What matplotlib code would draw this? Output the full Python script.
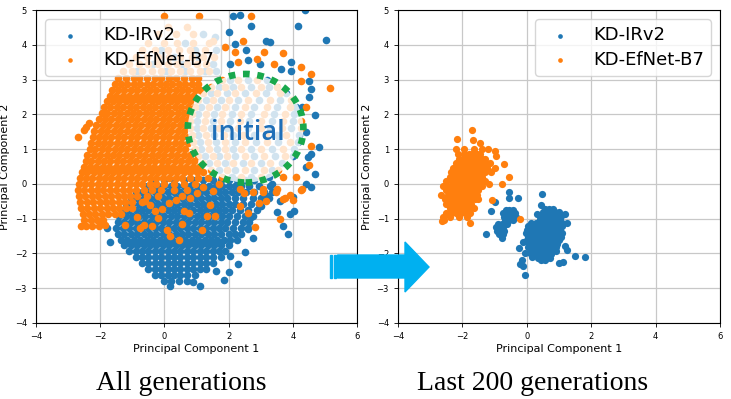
import matplotlib
matplotlib.use("Agg")
import matplotlib.pyplot as plt
from matplotlib.patches import Ellipse, Rectangle, Polygon

# ---------------- data ----------------
series_names = ["KD-IRv2", "KD-EfNet-B7"]
x_ticks = [-4, -2, 0, 2, 4, 6]
y_ticks = [-4, -3, -2, -1, 0, 1, 2, 3, 4, 5]
captions = ["All generations", "Last 200 generations"]

# ---- left panel: all generations, KD-EfNet-B7 (orange), rows of (y, [x...])
orange_all_rows = [
    (3.05, [-1.45, -1.2, -0.95, -0.8, -0.55, -0.3, -0.1, 0.15, 0.35, 0.6, 0.85, 1.05]),
    (2.88, [-1.55, -1.35, -1.15, -0.95, -0.75, -0.55, -0.35, -0.15, 0.05, 0.25, 0.45, 0.65, 0.85, 1.05]),
    (2.71, [-1.62, -1.45, -1.25, -1.05, -0.85, -0.65, -0.45, -0.25, -0.05, 0.15, 0.35, 0.55, 0.75, 0.95, 1.1]),
    (2.54, [-1.7, -1.5, -1.3, -1.1, -0.9, -0.7, -0.5, -0.3, -0.1, 0.1, 0.3, 0.5, 0.7, 0.9]),
    (2.37, [-1.78, -1.6, -1.4, -1.2, -1.0, -0.8, -0.6, -0.4, -0.2, 0.0, 0.2, 0.4, 0.6, 0.8]),
    (2.20, [-1.88, -1.68, -1.48, -1.28, -1.08, -0.88, -0.68, -0.48, -0.28, -0.08, 0.12, 0.32, 0.52, 0.72]),
    (2.03, [-1.95, -1.78, -1.58, -1.38, -1.18, -0.98, -0.78, -0.58, -0.38, -0.18, 0.02, 0.22, 0.42, 0.62, 0.78]),
    (1.86, [-2.05, -1.85, -1.65, -1.45, -1.25, -1.05, -0.85, -0.65, -0.45, -0.25, -0.05, 0.15, 0.35, 0.55, 0.72]),
    (1.69, [-2.12, -1.92, -1.72, -1.52, -1.32, -1.12, -0.92, -0.72, -0.52, -0.32, -0.12, 0.08, 0.28, 0.48, 0.68]),
    (1.52, [-2.18, -1.98, -1.78, -1.58, -1.38, -1.18, -0.98, -0.78, -0.58, -0.38, -0.18, 0.02, 0.22, 0.42, 0.62]),
    (1.35, [-2.22, -2.05, -1.85, -1.65, -1.45, -1.25, -1.05, -0.85, -0.65, -0.45, -0.25, -0.05, 0.15, 0.35, 0.55, 0.75]),
    (1.18, [-2.28, -2.08, -1.88, -1.68, -1.48, -1.28, -1.08, -0.88, -0.68, -0.48, -0.28, -0.08, 0.12, 0.32, 0.52, 0.72]),
    (1.01, [-2.32, -2.15, -1.95, -1.75, -1.55, -1.35, -1.15, -0.95, -0.75, -0.55, -0.35, -0.15, 0.05, 0.25, 0.45, 0.65]),
    (0.84, [-2.4, -2.2, -2.0, -1.8, -1.6, -1.4, -1.2, -1.0, -0.8, -0.6, -0.4, -0.2, 0.0, 0.2, 0.4, 0.6, 0.8]),
    (0.67, [-2.45, -2.28, -2.08, -1.88, -1.68, -1.48, -1.28, -1.08, -0.88, -0.68, -0.48, -0.28, -0.08, 0.12, 0.32, 0.52, 0.72, 0.92]),
    (0.50, [-2.52, -2.32, -2.12, -1.92, -1.72, -1.52, -1.32, -1.12, -0.92, -0.72, -0.52, -0.32, -0.12, 0.08, 0.28, 0.48, 0.68, 0.88, 1.08]),
    (0.33, [-2.58, -2.4, -2.2, -2.0, -1.8, -1.6, -1.4, -1.2, -1.0, -0.8, -0.6, -0.4, -0.2, 0.0, 0.2, 0.4, 0.6, 0.8, 1.0, 1.2]),
    (0.16, [-2.62, -2.45, -2.25, -2.05, -1.85, -1.65, -1.45, -1.25, -1.05, -0.85, -0.65, -0.45, -0.25, -0.05, 0.15, 0.35, 0.55, 0.8, 1.05, 1.35]),
    (-0.01, [-2.65, -2.48, -2.28, -2.08, -1.88, -1.68, -1.48, -1.28, -1.08, -0.88, -0.7, -0.45, -0.25, 0.0, 0.3, 0.6, 0.95]),
    (-0.18, [-2.68, -2.5, -2.3, -2.1, -1.9, -1.7, -1.5, -1.3, -1.1, -0.9, -0.65, -0.4, -0.1, 0.3, 0.7]),
    (-0.35, [-2.66, -2.46, -2.26, -2.06, -1.86, -1.66, -1.46, -1.26, -1.06, -0.85, -0.55, -0.2]),
    (-0.52, [-2.62, -2.42, -2.22, -2.02, -1.82, -1.62, -1.42, -1.22, -1.0, -0.7]),
    (-0.69, [-2.6, -2.4, -2.2, -2.0, -1.8, -1.6, -1.4, -1.2, -1.0]),
    (-0.86, [-2.55, -2.35, -2.15, -1.95, -1.75, -1.55, -1.35]),
    (-1.03, [-2.5, -2.3, -2.1, -1.9]),
    (-1.20, [-2.45, -2.25, -2.05]),
]
# pale points inside the "initial" circle and behind the legend
orange_all_hidden_rows = [
    (4.50, [0.1, 0.7]),
    (4.30, [-0.2, 0.35, 0.9]),
    (4.05, [-0.5, 0.0, 0.4, 0.9, 1.4]),
    (3.85, [-0.7, -0.3, 0.1, 0.45, 0.8, 1.25]),
    (3.65, [-0.9, -0.55, -0.2, 0.15, 0.5, 0.85, 1.2, 1.55]),
    (3.45, [-1.1, -0.8, -0.5, -0.2, 0.1, 0.4, 0.7, 1.0, 1.3]),
    (3.25, [-1.3, -1.0, -0.7, -0.4, -0.1, 0.2, 0.5, 0.8, 1.1, 1.4]),
    (3.0, [1.8, 2.3, 2.9]),
    (2.8, [1.45, 1.9, 2.4, 3.0, 3.5]),
    (2.6, [1.2, 1.65, 2.2, 2.85, 3.6]),
    (2.4, [1.05, 1.5, 2.0, 2.6, 3.3, 3.95]),
    (2.2, [0.95, 1.4, 1.9, 2.5, 3.2, 3.9]),
    (2.0, [0.85, 1.3, 1.8, 2.4, 3.1, 3.75]),
    (1.8, [0.8, 1.25, 1.75, 2.35, 3.0, 3.7, 4.25]),
    (1.6, [0.8, 1.2, 1.7, 2.3, 3.0, 3.65, 4.25]),
    (1.4, [0.85, 1.3, 1.85, 2.45, 3.15, 3.8]),
    (1.2, [0.9, 1.35, 1.9, 2.5, 3.2, 3.9]),
    (1.0, [0.95, 1.4, 1.9, 2.4, 3.0, 3.7]),
    (0.8, [1.05, 1.5, 1.95, 2.5, 3.1, 3.75]),
    (0.6, [1.2, 1.65, 2.15, 2.7, 3.3]),
    (0.4, [1.45, 1.95, 2.5, 3.1, 3.55]),
    (0.2, [1.8, 2.4, 3.0]),
]
orange_all_extra_x = [-2.7, -2.45, -2.35, -2.5, -1.85, -2.6, -2.0, -1.23, -0.86, -0.76, -0.65, -0.40,
                      -0.19, -0.29, -0.09, 0.07, 0.18, 0.46, 0.55, 1.16, 0.6, 0.76, 1.42, 1.58, 1.32,
                      2.36, 2.61, 2.82, 3.60, 3.76, 3.92, 4.28, 2.95, 3.08, 3.50, 2.36, 2.48, 0.35,
                      0.55, 0.8, 1.0, 1.2, 1.5, 1.7, -0.6, -0.45, 0.15,
                      0.0, 1.07, 2.71, 1.5, 1.9, 2.2, 2.45, 2.3, 2.9, 3.1, 3.4, 3.7, 4.26, 4.57,
                      4.26, 5.15, 4.4, 4.57, 4.5, 4.26, 4.0, 3.69, 3.49, 3.07, 3.17, 2.76, 3.69, 4.1]
orange_all_extra_y = [1.35, 1.65, 1.75, 1.55, -1.18, -1.2, -1.08, -1.18, -0.94, -1.28, -1.18, -1.22,
                      -0.99, -0.77, -0.73, -1.32, -1.51, -1.61, -1.16, -1.32, -0.77, -0.83, -0.60, -0.91, -0.91,
                      -0.65, -0.84, -1.23, -1.01, -0.41, -0.31, -0.16, -0.55, -0.22, -0.16, -0.15, -0.26, -0.45,
                      -0.35, -0.4, -0.25, -0.1, -0.2, 0.0, -0.5, -0.6, -0.55,
                      4.84, 4.84, 4.84, 4.1, 3.95, 3.8, 4.1, 3.5, 3.6, 3.8, 3.45, 3.75, 3.36, 3.16,
                      2.97, 2.76, 2.2, 1.10, 0.55, -0.19, -0.45, 0.19, -0.24, -0.14, -0.48, -0.24, -0.43, 0.2]

# ---- left panel: all generations, KD-IRv2 (blue)
blue_all_rows = [
    (0.10, [-0.3, 0.0, 0.3, 0.6, 0.9, 1.2, 1.5, 1.75, 2.0, 2.25, 2.5, 2.8]),
    (-0.07, [-0.6, -0.4, -0.2, 0.0, 0.2, 0.4, 0.6, 0.8, 1.0, 1.2, 1.4, 1.6, 1.8, 2.0, 2.2, 2.4, 2.65, 2.95, 3.3]),
    (-0.24, [-0.9, -0.7, -0.5, -0.3, -0.1, 0.1, 0.3, 0.5, 0.7, 0.9, 1.1, 1.3, 1.5, 1.7, 1.9, 2.1, 2.3, 2.55, 2.8, 3.1, 3.35]),
    (-0.41, [-1.05, -0.85, -0.65, -0.45, -0.25, -0.05, 0.15, 0.35, 0.55, 0.75, 0.95, 1.15, 1.35, 1.55, 1.75, 1.95, 2.2, 2.45, 2.75, 3.0, 3.25]),
    (-0.58, [-1.2, -1.0, -0.8, -0.6, -0.4, -0.2, 0.0, 0.2, 0.4, 0.6, 0.8, 1.0, 1.2, 1.4, 1.6, 1.8, 2.0, 2.2, 2.45, 2.7, 2.95]),
    (-0.75, [-1.3, -1.1, -0.9, -0.7, -0.5, -0.3, -0.1, 0.1, 0.3, 0.5, 0.7, 0.9, 1.1, 1.3, 1.5, 1.7, 1.9, 2.1, 2.35, 2.6, 2.9]),
    (-0.92, [-1.4, -1.2, -1.0, -0.8, -0.6, -0.4, -0.2, 0.0, 0.2, 0.4, 0.6, 0.8, 1.0, 1.2, 1.4, 1.6, 1.8, 2.0, 2.25, 2.5, 2.75]),
    (-1.09, [-1.45, -1.25, -1.05, -0.85, -0.65, -0.45, -0.25, -0.05, 0.15, 0.35, 0.55, 0.75, 0.95, 1.15, 1.35, 1.55, 1.75, 1.95, 2.2, 2.45, 2.65]),
    (-1.26, [-1.5, -1.3, -1.1, -0.9, -0.7, -0.5, -0.3, -0.1, 0.1, 0.3, 0.5, 0.7, 0.9, 1.1, 1.3, 1.5, 1.7, 1.9, 2.15, 2.4, 2.6]),
    (-1.43, [-1.45, -1.25, -1.05, -0.85, -0.65, -0.45, -0.25, -0.05, 0.15, 0.35, 0.55, 0.75, 0.95, 1.15, 1.35, 1.55, 1.75, 2.0, 2.2, 2.4]),
    (-1.60, [-1.35, -1.15, -0.95, -0.75, -0.55, -0.35, -0.15, 0.05, 0.25, 0.45, 0.65, 0.85, 1.05, 1.25, 1.45, 1.65, 1.85, 2.05, 2.25]),
    (-1.77, [-1.25, -1.05, -0.85, -0.65, -0.45, -0.25, -0.05, 0.15, 0.35, 0.55, 0.75, 0.95, 1.15, 1.35, 1.55, 1.75, 2.0]),
    (-1.94, [-1.1, -0.9, -0.7, -0.5, -0.3, -0.1, 0.1, 0.3, 0.5, 0.7, 0.9, 1.1, 1.3, 1.5, 1.7, 1.9]),
    (-2.11, [-0.9, -0.7, -0.5, -0.3, -0.1, 0.1, 0.3, 0.5, 0.7, 0.9, 1.1, 1.3, 1.5, 1.75]),
    (-2.28, [-0.7, -0.5, -0.3, -0.1, 0.1, 0.3, 0.5, 0.7, 0.9, 1.1, 1.3, 1.5]),
    (-2.45, [-0.5, -0.3, -0.1, 0.1, 0.3, 0.5, 0.7, 0.9, 1.1, 1.3]),
    (-2.62, [-0.3, -0.1, 0.1, 0.3, 0.5, 0.7, 0.95]),
    (-2.79, [0.0, 0.2, 0.45, 0.7]),
]
blue_all_hidden_rows = [
    (4.30, [1.2]),
    (4.05, [0.65]),
    (3.85, [-0.1, 0.95, 1.6]),
    (3.65, [0.3, 1.05]),
    (3.45, [-0.35, 0.55, 1.5]),
    (3.25, [-0.85, 0.05, 0.65, 1.25, 1.6]),
    (3.0, [2.05, 2.6, 3.2]),
    (2.8, [1.7, 2.15, 2.7, 3.25]),
    (2.6, [1.45, 1.95, 2.5, 3.15, 3.8]),
    (2.4, [1.3, 1.75, 2.3, 2.95, 3.6]),
    (2.2, [1.15, 1.65, 2.2, 2.8, 3.5, 4.1]),
    (2.0, [1.05, 1.55, 2.1, 2.7, 3.4, 4.05]),
    (1.8, [1.0, 1.5, 2.05, 2.65, 3.35, 4.0]),
    (1.6, [1.0, 1.45, 1.95, 2.6, 3.3, 3.95]),
    (1.4, [1.05, 1.55, 2.15, 2.8, 3.5, 4.2]),
    (1.2, [1.1, 1.6, 2.2, 2.85, 3.55, 4.15]),
    (1.0, [1.15, 1.65, 2.15, 2.7, 3.35, 4.05]),
    (0.8, [1.25, 1.7, 2.2, 2.8, 3.45, 4.0]),
    (0.6, [1.4, 1.9, 2.45, 3.0, 3.65]),
    (0.4, [1.7, 2.2, 2.8, 3.35]),
    (0.2, [2.1, 2.7, 3.25]),
]
blue_all_extra_x = [-1.69, -1.8, 0.17, 1.1, 0.9, 1.6, 2.0, 2.05, 2.3, 1.85, 2.5, 2.6, 2.75, 2.7, 3.0,
                    3.2, 3.35, 3.5, 3.7, 3.85, 3.6, 3.9, 4.05, 4.0, 4.57, 4.42, 4.68, 4.42, 4.47, 4.57,
                    4.83, 4.68, 4.52, 4.57, 4.52, 3.95, 3.64, 3.95, 2.97, 2.6, 2.03, 2.55, 2.19, 1.57,
                    3.17, 3.28, 2.01, 2.71, 4.16, 5.04, 4.37, 2.14, 2.34, 4.4, 4.3]
blue_all_extra_y = [-1.66, -1.28, -2.95, -2.93, -2.82, -2.5, -2.52, -2.08, -2.3, -2.75, -1.95, -1.3, -1.55, -0.95, -0.65,
                    -0.36, 0.0, -0.8, -1.2, -1.45, -0.5, -0.86, -0.77, -0.38, -0.1, 0.0, 0.29, 0.48, 0.77, 0.86,
                    1.05, 1.97, 2.49, 2.73, 2.97, 3.26, 3.31, 3.5, 3.45, 3.55, 3.45, 3.84, 4.03, 4.22,
                    4.1, 4.07, 4.36, 4.55, 4.55, 4.14, 5.0, 4.84, 4.87, 1.5, 2.2]

# ---- right panel: last 200 generations
orange_last_rows = [
    (0.85, [-2.15, -1.95, -1.8, -1.7, -1.55, -1.45]),
    (0.72, [-2.1, -1.97, -1.85, -1.72, -1.6, -1.5, -1.4, -1.3]),
    (0.60, [-2.2, -2.05, -1.92, -1.8, -1.68, -1.55, -1.42, -1.3, -1.15]),
    (0.47, [-2.3, -2.15, -2.02, -1.9, -1.78, -1.65, -1.52, -1.38, -1.25, -1.0]),
    (0.34, [-2.35, -2.2, -2.08, -1.95, -1.82, -1.7, -1.58, -1.45, -1.3, -1.1]),
    (0.21, [-2.4, -2.27, -2.15, -2.02, -1.9, -1.77, -1.65, -1.52, -1.4]),
    (0.08, [-2.5, -2.33, -2.2, -2.08, -1.95, -1.83, -1.7, -1.58, -1.45, -1.3]),
    (-0.05, [-2.6, -2.45, -2.3, -2.17, -2.05, -1.92, -1.8, -1.68, -1.55, -1.38]),
    (-0.18, [-2.5, -2.37, -2.25, -2.12, -2.0, -1.87, -1.75, -1.62, -1.5]),
    (-0.31, [-2.65, -2.45, -2.32, -2.2, -2.07, -1.95, -1.82, -1.7, -1.55]),
    (-0.44, [-2.55, -2.4, -2.27, -2.15, -2.02, -1.9, -1.77, -1.62, -1.5]),
    (-0.57, [-2.5, -2.35, -2.22, -2.1, -1.97, -1.85, -1.72]),
    (-0.70, [-2.4, -2.27, -2.15, -2.02, -1.9, -1.78, -1.65]),
    (-0.83, [-2.5, -2.35, -2.2, -2.05, -1.9, -1.75]),
    (-0.95, [-2.6, -2.4, -2.1, -1.85]),
]
orange_last_extra_x = [-1.69, -2.18, -1.67, -1.46, -2.19, -1.95, -1.64, -1.38, -1.21, -0.96, -0.98,
                       -0.70, -0.55, -0.78, -1.09, -0.22, -1.17, -1.19, -1.76, -2.57, -2.62]
orange_last_extra_y = [1.56, 1.29, 1.27, 1.18, 0.99, 0.99, 0.99, 0.99, 0.99, 0.81, 0.96,
                       0.56, 0.21, 0.0, -0.46, -1.02, 0.0, 0.40, -1.12, -1.05, -1.08]

blue_last_rows = [
    (-0.72, [0.55, 0.68, 0.8]),
    (-0.82, [0.5, 0.62, 0.75, 0.88, 1.0]),
    (-0.92, [0.45, 0.58, 0.7, 0.83, 0.95, 1.07]),
    (-1.02, [0.4, 0.52, 0.65, 0.78, 0.9, 1.02]),
    (-1.12, [0.12, 0.3, 0.45, 0.58, 0.7, 0.83, 0.95, 1.08]),
    (-1.22, [0.05, 0.2, 0.35, 0.48, 0.6, 0.72, 0.85, 0.97, 1.1]),
    (-1.32, [0.02, 0.15, 0.28, 0.4, 0.52, 0.65, 0.78, 0.9, 1.03]),
    (-1.42, [-0.02, 0.1, 0.23, 0.35, 0.48, 0.6, 0.72, 0.85, 0.97, 1.1]),
    (-1.52, [0.05, 0.18, 0.3, 0.43, 0.55, 0.68, 0.8, 0.93, 1.05]),
    (-1.62, [0.0, 0.13, 0.25, 0.38, 0.5, 0.63, 0.75, 0.88, 1.0]),
    (-1.72, [0.08, 0.2, 0.33, 0.45, 0.58, 0.7, 0.83, 0.95]),
    (-1.82, [0.05, 0.18, 0.3, 0.43, 0.55, 0.68, 0.8, 0.92]),
    (-1.92, [0.15, 0.28, 0.4, 0.53, 0.65, 0.78, 0.9]),
    (-2.02, [0.25, 0.38, 0.5, 0.63, 0.75]),
    (-2.12, [0.35, 0.48, 0.6, 0.72]),
    (-2.20, [0.45, 0.55]),
    (-0.75, [-0.65, -0.55, -0.42]),
    (-0.85, [-0.75, -0.62, -0.5, -0.38]),
    (-0.95, [-0.7, -0.58, -0.45, -0.33]),
    (-1.05, [-0.68, -0.55, -0.42]),
    (-1.15, [-0.88, -0.78, -0.6]),
    (-1.25, [-0.95, -0.85, -0.75]),
    (-1.35, [-0.92, -0.82, -0.7]),
    (-1.45, [-0.85, -0.75]),
    (-1.55, [-0.78]),
]
blue_last_extra_x = [-1.28, -1.1, -1.0, -0.56, -0.56, -0.26, 0.47, 0.44, 0.31, 1.2, 1.25, 1.2, 1.25,
                     1.5, 1.81, 1.11, 1.0, -0.12, -0.07, -0.12, -0.07, -0.2, -0.25, -0.15, 0.15, 0.1]
blue_last_extra_y = [-1.44, -0.79, -0.53, -0.24, -0.4, -0.4, -0.28, -0.62, -0.86, -0.86, -1.13, -1.8, -1.91,
                     -2.06, -2.1, -2.24, -2.27, -1.67, -2.0, -2.37, -2.62, -2.3, -1.85, -2.2, -2.1, -2.0]


def flatten(rows, extra_x=(), extra_y=()):
    xs = [x for y, row in rows for x in row] + list(extra_x)
    ys = [y for y, row in rows for _ in row] + list(extra_y)
    return xs, ys


BLUE = "#1f77b4"
ORANGE = "#ff7f0e"
MS_LEFT = 30
MS_RIGHT = 27

fig = plt.figure(figsize=(7.31, 3.99), dpi=100)
ax1 = fig.add_axes([36 / 731, 1 - 323 / 399, 321 / 731, 313 / 399])
ax2 = fig.add_axes([398 / 731, 1 - 323 / 399, 322 / 731, 313 / 399])

bx, by = flatten(blue_all_rows + blue_all_hidden_rows, blue_all_extra_x, blue_all_extra_y)
ox, oy = flatten(orange_all_rows + orange_all_hidden_rows, orange_all_extra_x, orange_all_extra_y)
ax1.scatter(bx, by, s=MS_LEFT, c=BLUE, linewidths=0, label=series_names[0], zorder=2)
ax1.scatter(ox, oy, s=MS_LEFT, c=ORANGE, linewidths=0, label=series_names[1], zorder=2)

bx2, by2 = flatten(blue_last_rows, blue_last_extra_x, blue_last_extra_y)
ox2, oy2 = flatten(orange_last_rows, orange_last_extra_x, orange_last_extra_y)
ax2.scatter(bx2, by2, s=MS_RIGHT, c=BLUE, linewidths=0, label=series_names[0], zorder=2)
ax2.scatter(ox2, oy2, s=MS_RIGHT, c=ORANGE, linewidths=0, label=series_names[1], zorder=2)

for ax, loc, msc in ((ax1, "upper left", 0.6), (ax2, "upper right", 0.65)):
    ax.set_xlim(-4, 6)
    ax.set_ylim(-4, 5)
    ax.set_xticks(x_ticks)
    ax.set_yticks(y_ticks)
    ax.tick_params(labelsize=6, length=3, width=0.6)
    ax.grid(True, color="#c8c8c8", linewidth=0.9, zorder=0)
    ax.set_axisbelow(True)
    ax.set_xlabel("Principal Component 1", fontsize=8, labelpad=2)
    ax.set_ylabel("Principal Component 2", fontsize=8, labelpad=3)
    for sp in ax.spines.values():
        sp.set_linewidth(0.8)
    leg = ax.legend(loc=loc, fontsize=13, handletextpad=0.8, borderpad=0.4,
                    labelspacing=0.35, handlelength=2.0, scatterpoints=1, markerscale=msc)
    leg.set_zorder(10)

# "initial" highlight circle
ell_fill = Ellipse((2.53, 1.6), 3.6, 3.12, facecolor="white", alpha=0.8, edgecolor="none", zorder=4)
ax1.add_patch(ell_fill)
ell_edge = Ellipse((2.53, 1.6), 3.6, 3.12, facecolor="none", edgecolor="#19a84c",
                   linewidth=4.8, linestyle=(0, (1.0, 1.15)), zorder=5)
ax1.add_patch(ell_edge)
ax1.text(2.6, 1.45, "initial", fontsize=19.5, color="#1f6fb8", ha="center", va="center",
         family=["Open Sans", "DejaVu Sans"], fontweight="semibold", zorder=6)

# blue arrow between panels (figure coordinates, pixels -> fraction)
W, H = 731.0, 399.0
def fx(px):
    return px / W
def fy(py):
    return 1 - py / H
ARROW = "#00b0f0"
fig.patches.append(Rectangle((fx(330), fy(278)), fx(332) - fx(330), fy(255) - fy(278),
                             transform=fig.transFigure, color=ARROW, zorder=20))
fig.patches.append(Rectangle((fx(333.5), fy(278)), fx(336) - fx(333.5), fy(255) - fy(278),
                             transform=fig.transFigure, color=ARROW, zorder=20))
fig.patches.append(Polygon([(fx(337.5), fy(255)), (fx(405), fy(255)), (fx(405), fy(242)),
                            (fx(429), fy(267)), (fx(405), fy(292)), (fx(405), fy(278)),
                            (fx(337.5), fy(278))],
                           closed=True, transform=fig.transFigure, color=ARROW, zorder=20))

# captions
fig.text(fx(181), fy(383), captions[0], fontsize=20, family=["Liberation Serif", "DejaVu Serif"],
         ha="center", va="center")
fig.text(fx(533), fy(383), captions[1], fontsize=20, family=["Liberation Serif", "DejaVu Serif"],
         ha="center", va="center")

fig.savefig("out.png", dpi=100)
